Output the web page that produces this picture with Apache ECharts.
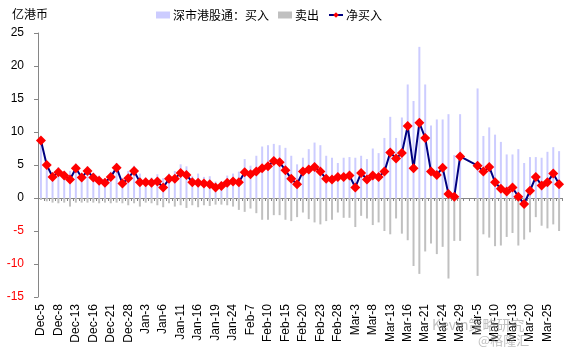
<!DOCTYPE html>
<html>
<head>
<meta charset="utf-8">
<script src="https://cdn.jsdelivr.net/npm/echarts@6/dist/echarts.min.js"></script>
<style>
  html, body { margin: 0; padding: 0; background: #fff; }
  #chart { width: 571px; height: 351px; }
</style>
</head>
<body>
<div id="chart"></div>
<script>
// 交易日（原图四月部分标成了 Mar-）
let categories = [
  'Dec-5', 'Dec-6', 'Dec-7', 'Dec-8', 'Dec-9', 'Dec-12', 'Dec-13', 'Dec-14', 'Dec-15', 'Dec-16',
  'Dec-19', 'Dec-20', 'Dec-21', 'Dec-22', 'Dec-23', 'Dec-28', 'Dec-29', 'Dec-30',
  'Jan-3', 'Jan-4', 'Jan-5', 'Jan-6', 'Jan-9', 'Jan-10', 'Jan-11', 'Jan-12', 'Jan-13', 'Jan-16',
  'Jan-17', 'Jan-18', 'Jan-19', 'Jan-20', 'Jan-23', 'Jan-24',
  'Feb-3', 'Feb-6', 'Feb-7', 'Feb-8', 'Feb-9', 'Feb-10', 'Feb-13', 'Feb-14', 'Feb-15', 'Feb-16',
  'Feb-17', 'Feb-20', 'Feb-21', 'Feb-22', 'Feb-23', 'Feb-24', 'Feb-27', 'Feb-28',
  'Mar-1', 'Mar-2', 'Mar-3', 'Mar-6', 'Mar-7', 'Mar-8', 'Mar-9', 'Mar-10', 'Mar-13', 'Mar-14',
  'Mar-15', 'Mar-16', 'Mar-17', 'Mar-20', 'Mar-21', 'Mar-22', 'Mar-23', 'Mar-24', 'Mar-27', 'Mar-28',
  'Mar-29', 'Mar-30', 'Mar-31',
  'Mar-5', 'Mar-6', 'Mar-7', 'Mar-10', 'Mar-11', 'Mar-12', 'Mar-13', 'Mar-18', 'Mar-19', 'Mar-20',
  'Mar-21', 'Mar-24', 'Mar-25', 'Mar-26', 'Mar-27'
]
// 深市港股通：买入
let buyData = [
  9.0, 5.5, 3.9, 4.7, 4.1, 4.1, 5.2, 3.8, 4.8, 3.8,
  3.4, 3.0, 4.0, 5.3, 3.0, 4.1, 4.9, 3.7, 3.1, 3.1,
  3.6, 3.0, 3.7, 4.1, 5.1, 4.8, 3.3, 3.7, 3.2, 3.3,
  2.5, 2.5, 3.4, 3.7, 4.0, 5.9, 4.9, 6.4, 7.8, 8.0,
  8.2, 8.0, 7.6, 6.4, 5.1, 6.1, 7.4, 8.4, 8.0, 6.4,
  6.1, 5.3, 6.1, 6.2, 6.1, 6.4, 5.9, 7.5, 6.8, 9.1,
  12.3, 9.1, 12.2, 17.2, 14.7, 22.9, 17.2, 11.0, 11.9, 11.9,
  12.7, 6.5, 12.7, null, null, 16.6, 9.4, 10.7, 9.6, 8.5,
  6.6, 6.6, 7.4, 5.3, 6.2, 6.2, 6.1, 7.0, 7.7, 7.1
]
// 卖出
let sellData = [
  -0.3, -0.5, -0.7, -0.8, -0.7, -1.3, -0.7, -0.7, -0.7, -0.7,
  -0.8, -0.7, -0.8, -0.7, -0.8, -1.1, -0.8, -1.3, -0.7, -0.8,
  -1.1, -1.4, -0.8, -1.3, -1.1, -1.5, -1.1, -1.4, -1.1, -1.2,
  -1.0, -1.0, -1.1, -1.3, -1.8, -2.1, -1.6, -2.3, -3.3, -3.3,
  -2.6, -2.6, -3.3, -3.5, -2.9, -2.2, -3.2, -3.7, -4.0, -3.5,
  -3.3, -2.2, -3.0, -3.0, -4.4, -2.7, -3.1, -4.1, -3.7, -5.0,
  -5.5, -3.1, -5.4, -6.4, -10.3, -11.5, -8.1, -6.9, -8.5, -7.4,
  -12.2, -6.5, -6.5, null, null, -11.8, -5.5, -6.0, -7.3, -7.2,
  -5.9, -5.3, -7.2, -6.3, -5.2, -2.9, -4.2, -4.6, -4.0, -5.0
]
// 净买入
let netData = [
  8.7, 5.0, 3.2, 3.9, 3.4, 2.8, 4.5, 3.1, 4.1, 3.1,
  2.6, 2.3, 3.2, 4.6, 2.2, 3.0, 4.1, 2.4, 2.4, 2.3,
  2.5, 1.6, 2.9, 2.9, 3.8, 3.5, 2.4, 2.3, 2.2, 2.1,
  1.6, 1.8, 2.3, 2.5, 2.4, 3.9, 3.6, 4.0, 4.5, 4.8,
  5.6, 5.4, 4.2, 2.9, 2.1, 4.0, 4.3, 4.7, 4.0, 2.9,
  2.8, 3.2, 3.2, 3.4, 1.6, 3.8, 2.8, 3.4, 3.2, 4.0,
  6.9, 6.0, 6.8, 10.9, 4.5, 11.4, 9.1, 4.0, 3.5, 4.6,
  0.6, 0.2, 6.3, null, null, 4.9, 4.0, 4.7, 2.4, 1.4,
  1.0, 1.6, 0.2, -0.9, 1.1, 3.2, 1.9, 2.4, 3.7, 2.1
]
let yTicks = { min: -15, max: 25, step: 5 }

let latin = 'Liberation Sans, Arial, sans-serif'
let cjk = 'Noto Sans CJK SC, sans-serif'

let myChart = echarts.init(document.getElementById('chart'), null, { renderer: 'canvas' })
myChart.setOption({
  animation: false,
  backgroundColor: '#fff',
  title: {
    text: '亿港币',
    left: 7,
    top: 3,
    textStyle: { fontFamily: cjk, fontSize: 12, fontWeight: 'normal', color: '#000' }
  },
  legend: {
    left: 151,
    top: 4,
    itemWidth: 14,
    itemHeight: 7,
    itemGap: 9,
    textStyle: { fontFamily: cjk, fontSize: 12, color: '#000', padding: [0, 0, 0, -2] },
    data: [
      { name: '深市港股通：买入', icon: 'rect' },
      { name: '卖出', icon: 'rect' },
      { name: '净买入' }
    ]
  },
  grid: { left: 38, right: 9, top: 33, bottom: 54 },
  xAxis: [
    {
      // 底部标签
      type: 'category',
      data: categories,
      position: 'bottom',
      axisLine: { show: false, onZero: false },
      axisTick: { show: false },
      axisLabel: {
        interval: 2,
        rotate: 90,
        margin: 7,
        color: '#000',
        fontFamily: latin,
        fontSize: 12
      }
    },
    {
      // 零轴上的刻度线
      type: 'category',
      data: categories,
      position: 'top',
      axisLine: { onZero: true, lineStyle: { color: '#868686', width: 1 } },
      axisTick: { show: true, inside: true, interval: 0, length: 3, lineStyle: { color: '#868686' } },
      axisLabel: { show: false }
    }
  ],
  yAxis: {
    type: 'value',
    min: yTicks.min,
    max: yTicks.max,
    interval: yTicks.step,
    splitLine: { show: false },
    axisLine: { show: true, lineStyle: { color: '#868686' } },
    axisTick: { show: true, length: 4, lineStyle: { color: '#868686' } },
    axisLabel: {
      margin: 14,
      fontFamily: latin,
      fontSize: 12,
      color: function (value) {
        return value < 0 ? '#ff0000' : '#000'
      }
    }
  },
  series: [
    {
      name: '深市港股通：买入',
      type: 'bar',
      data: buyData,
      barWidth: 2,
      barGap: '-100%',
      itemStyle: { color: '#ccccff' }
    },
    {
      name: '卖出',
      type: 'bar',
      data: sellData,
      barWidth: 2,
      barGap: '-100%',
      itemStyle: { color: '#c0c0c0' }
    },
    {
      name: '净买入',
      type: 'line',
      data: netData,
      connectNulls: true,
      showSymbol: true,
      showAllSymbol: true,
      symbol: 'diamond',
      symbolSize: 10,
      z: 5,
      lineStyle: { color: '#000080', width: 2 },
      itemStyle: { color: '#ff0000' }
    }
  ],
  graphic: [
    // 水印
    {
      type: 'text',
      left: 432,
      top: 318,
      z: 100,
      style: { text: 'Kevin策略研究', font: '14px ' + cjk, fill: 'rgba(140,140,140,0.55)' }
    },
    {
      type: 'text',
      left: 478,
      top: 334,
      z: 100,
      style: { text: '@格隆汇', font: '13px ' + cjk, fill: 'rgba(140,140,140,0.55)' }
    }
  ]
})
</script>
</body>
</html>
